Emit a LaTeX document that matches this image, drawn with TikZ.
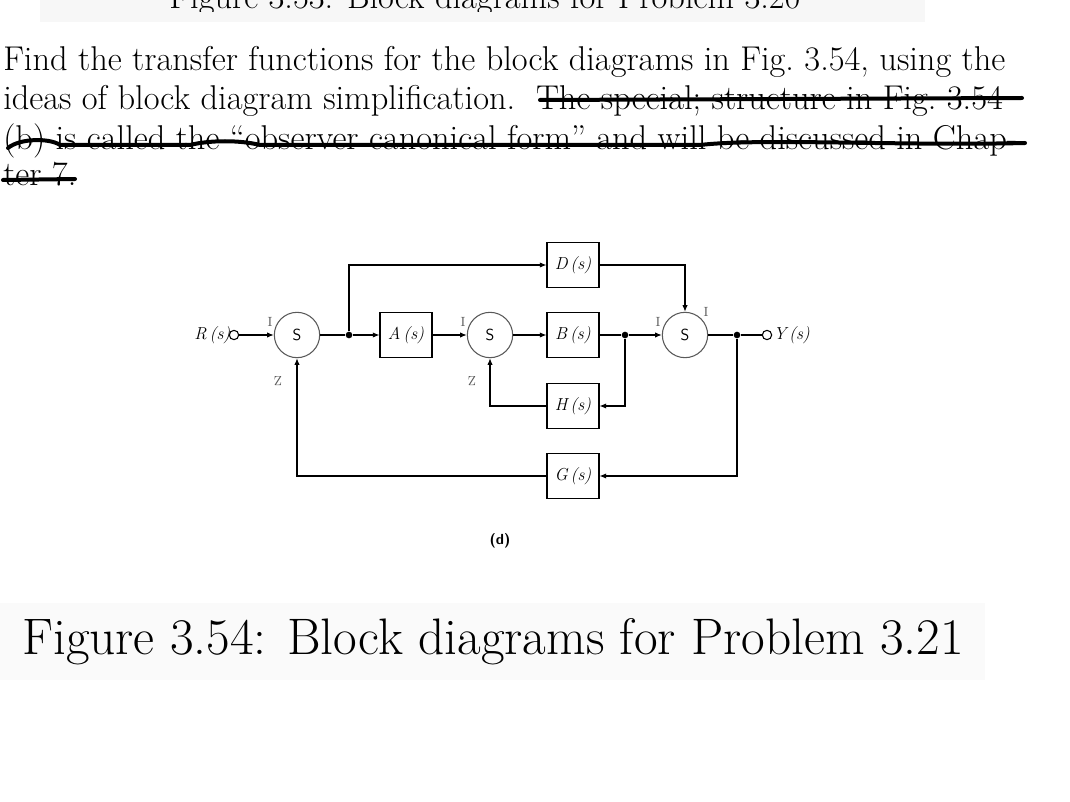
\documentclass[tikz,border=0pt]{standalone}
\usetikzlibrary{arrows.meta}
\begin{document}
\begin{tikzpicture}[x=0.75pt,y=-0.75pt,
  blk/.style={draw,thick,minimum width=39pt,minimum height=34pt,inner sep=0pt,font=\fontsize{13}{14}\selectfont\itshape},
  sumn/.style={draw=gray!70!black,thick,circle,minimum size=34pt,inner sep=0pt,font=\sffamily\fontsize{12}{13}\selectfont},
  dotn/.style={circle,fill,inner sep=0pt,minimum size=5pt},
  port/.style={circle,draw,thick,fill=white,inner sep=0pt,minimum size=7pt},
  sgn/.style={text=gray!70!black,font=\fontsize{10}{11}\selectfont},
  ar/.style={thick,-{Latex[length=5pt,width=4pt]}},
  ln/.style={thick},
  txt/.style={anchor=base west,font=\fontsize{25.8}{30}\selectfont,inner sep=0pt},
  strike/.style={line width=3pt,line cap=round}]
\useasboundingbox (0,0) rectangle (1070,802);
\fill[gray!6] (40,0) rectangle (925,22);
\begin{scope}
\clip (0,0) rectangle (1070,12);
\node[anchor=base,font=\fontsize{25.8}{30}\selectfont] (top) at (485,9) {Figure 3.53: Block diagrams for Problem 3.20};
\end{scope}
\node[txt] (l1) at (3,71) {Find the transfer functions for the block diagrams in Fig.~3.54, using the};
\node[txt] (l2) at (3,110) {ideas of block diagram simplification.\ \ The special; structure in Fig.~3.54};
\node[txt] (l3) at (3,150) {(b) is called the ``observer canonical form'' and will be discussed in Chap-};
\node[txt] (l4) at (3,186) {ter 7.};
\draw[strike] (540,100) -- (1022,98);
\draw[strike] (8,148) .. controls (20,138) and (50,138) .. (60,145) -- (190,145) .. controls (210,140) and (240,140) .. (260,145) -- (700,145) .. controls (760,138) and (900,146) .. (1025,143);
\draw[strike] (3,180) -- (75,179);
% diagram
\node[sumn] (s1) at (297,335) {S};
\node[sumn] (s2) at (490,335) {S};
\node[sumn] (s3) at (685,335) {S};
\node[blk] (A) at (406,335) {A\,(s)};
\node[blk] (D) at (573,265) {D\,(s)};
\node[blk] (B) at (573,335) {B\,(s)};
\node[blk] (H) at (573,406) {H\,(s)};
\node[blk] (G) at (573,476) {G\,(s)};
\node[font=\fontsize{13}{14}\selectfont\itshape,anchor=east,inner sep=1pt] (R) at (232,335) {R\,(s)};
\node[port] (rp) at (234,335) {};
\node[port] (yp) at (767,335) {};
\node[font=\fontsize{13}{14}\selectfont\itshape,anchor=west,inner sep=1pt] (Y) at (772,335) {Y\,(s)};
\node[dotn] (d1) at (349,335) {};
\node[dotn] (d2) at (625,335) {};
\node[dotn] (d3) at (737,335) {};
\draw[ar] (rp) -- (s1);
\draw[ln] (s1) -- (d1);
\draw[ar] (d1) -- (A);
\draw[ar] (d1) |- (D);
\draw[ar] (A) -- (s2);
\draw[ar] (s2) -- (B);
\draw[ln] (B) -- (d2);
\draw[ar] (d2) -- (s3);
\draw[ar] (D.east) -| (s3.north);
\draw[ar] (d2) |- (H.east);
\draw[ar] (H.west) -| (s2.south);
\draw[ln] (s3) -- (d3);
\draw[ln] (d3) -- (yp);
\draw[ar] (d3) |- (G.east);
\draw[ar] (G.west) -| (s1.south);
\node[sgn] (p1) at (270,322) {I};
\node[sgn] (p2) at (463,322) {I};
\node[sgn] (p3) at (658,322) {I};
\node[sgn] (p4) at (706,312) {I};
\node[sgn] (m1) at (278,381) {\rotatebox{180}{Z}};
\node[sgn] (m2) at (472,381) {\rotatebox{180}{Z}};
\node[font=\sffamily\bfseries\fontsize{11}{13}\selectfont] (cap) at (500,541) {(d)};
\fill[gray!4] (0,603) rectangle (985,680);
\node[anchor=base west,font=\fontsize{38.5}{44}\selectfont,inner sep=0pt] (fig) at (22,654) {Figure 3.54: Block diagrams for Problem 3.21};
\end{tikzpicture}
\end{document}
